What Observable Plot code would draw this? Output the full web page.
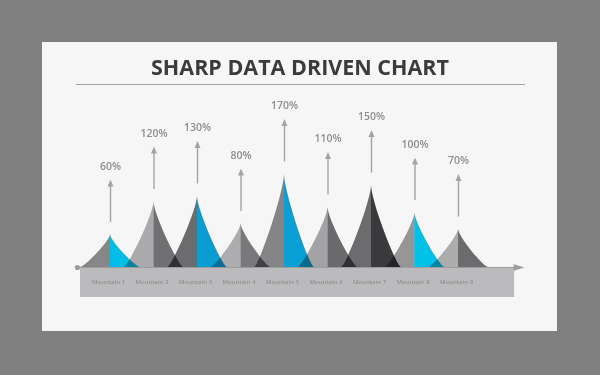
<!DOCTYPE html>
<html>
<head>
<meta charset="utf-8">
<script src="https://cdn.jsdelivr.net/npm/d3@7"></script>
<script src="https://cdn.jsdelivr.net/npm/@observablehq/plot@0.6"></script>
<style>
  html, body { margin: 0; padding: 0; }
  body { width: 600px; height: 375px; background: #808080; position: relative; overflow: hidden; font-family: "Open Sans", sans-serif; }
  #card { position: absolute; left: 42px; top: 42px; width: 515px; height: 289px; background: #f6f6f6; }
  #title { position: absolute; left: 0; top: 56px; width: 600px; text-align: center; font: 700 21.5px/1 "Open Sans", sans-serif; color: #3b3b3b; margin: 0; }
  #rule { position: absolute; left: 76px; top: 84px; width: 449px; height: 1px; background: #a3a3a3; }
  #chart { position: absolute; left: 0; top: 0; }
</style>
</head>
<body>
<div id="card"></div>
<h1 id="title">SHARP DATA DRIVEN CHART</h1>
<div id="rule"></div>
<div id="chart"></div>
<script>
// ---- data ----
const mountains = ["Mountain 1","Mountain 2","Mountain 3","Mountain 4","Mountain 5","Mountain 6","Mountain 7","Mountain 8","Mountain 9"];
const values = [60, 120, 130, 80, 170, 110, 150, 100, 70];
const valueLabels = ["60%","120%","130%","80%","170%","110%","150%","100%","70%"];
const leftColors  = ["#8c8c8e","#b0b0b2","#707072","#b4b4b6","#8a8a8c","#a9a9ab","#707072","#9c9c9e","#b2b2b4"];
const rightColors = ["#00c5ee","#747476","#0aa3da","#7c7c7e","#0aa6de","#6e6e70","#3c3c3e","#00c8f0","#707072"];

// ---- geometry helpers ----
const HW = 0.69; // half width of a mountain, in category steps
const idx = mountains.map((d, i) => i + 1);
const rows = [];
mountains.forEach((m, i) => {
  const x = idx[i], v = values[i];
  rows.push({k: "L" + i, x: x - HW, y: 0, fill: leftColors[i]});
  rows.push({k: "L" + i, x: x, y: v, fill: leftColors[i]});
  rows.push({k: "R" + i, x: x, y: v, fill: rightColors[i]});
  rows.push({k: "R" + i, x: x + HW, y: 0, fill: rightColors[i]});
});
const table = mountains.map((m, i) => ({m, x: idx[i], v: values[i], label: valueLabels[i]}));

// concave "sharp" curve: horizontal at the foot, vertical at the peak
function sharp(context) {
  const A = 0.15, B = 0.8;
  let line, n, px, py;
  return {
    areaStart() { line = 0; },
    areaEnd() { line = NaN; },
    lineStart() { n = 0; },
    lineEnd() { if (line || (line !== 0 && n === 1)) context.closePath(); line = 1 - line; },
    point(x, y) {
      x = +x; y = +y;
      if (n === 0) { line ? context.lineTo(x, y) : context.moveTo(x, y); }
      else if (Math.abs(y - py) < 0.5) context.lineTo(x, y);
      else {
        const lowFirst = py > y;
        const L = lowFirst ? [px, py] : [x, y], H = lowFirst ? [x, y] : [px, py];
        const cL = [L[0] + (H[0] - L[0]) * A, L[1]];
        const cH = [H[0], L[1] + (H[1] - L[1]) * B];
        if (lowFirst) context.bezierCurveTo(cL[0], cL[1], cH[0], cH[1], x, y);
        else context.bezierCurveTo(cH[0], cH[1], cL[0], cL[1], x, y);
      }
      n++; px = x; py = y;
    }
  };
}

const first = idx[0], last = idx[idx.length - 1];
const gray = "#a4a4a4";

const chart = Plot.plot({
  width: 600,
  height: 375,
  margin: 0,
  x: {domain: [first, last], range: [110, 458], axis: null},
  y: {domain: [0, 100], range: [267, 212], axis: null},
  color: {type: "identity"},
  style: {background: "transparent", overflow: "visible", fontFamily: "'Open Sans', sans-serif"},
  marks: [
    // band under the baseline
    Plot.rect([0], {x1: first - HW, x2: last + 1.29, y1: -54.5, y2: 0, fill: "#bbbbbd"}),
    // mountains (no stacking: explicit y1/y2)
    Plot.area(rows, {x1: "x", y1: 0, y2: "y", z: "k", fill: "fill", curve: sharp, mixBlendMode: "multiply"}),
    // baseline with dot and arrowhead
    Plot.ruleY([0], {x1: first - 0.76, x2: last + 1.3, stroke: "#9c9c9c", strokeWidth: 1.2}),
    Plot.dot([0], {x: first - 0.76, y: 0, r: 2.6, fill: "#9c9c9c", stroke: "none"}),
    Plot.vector([0], {x: last + 1.52, y: 0, length: 11, r: 3.3, rotate: 90, shape: "spike", anchor: "end", fill: "#9c9c9c", stroke: "none"}),
    // value arrows (y1 = top, y2 = bottom so insets apply correctly)
    Plot.ruleX(table, {x: "x", y1: d => d.v + 100, y2: "v", insetTop: 5, insetBottom: 12, stroke: gray, strokeWidth: 1.4}),
    Plot.vector(table, {x: "x", y: d => d.v + 100, length: 7, r: 3, shape: "spike", anchor: "end", fill: gray, stroke: "none"}),
    // value labels
    Plot.text(table, {x: "x", y: "v", dy: -68, text: "label", fontSize: 10.5, fontWeight: 600, fill: "#8e8e8e"}),
    // category labels
    Plot.text(table, {x: "x", y: 0, dy: 15, dx: -2, text: "m", fontSize: 6, fontWeight: 600, fill: "#909090"})
  ]
});
document.getElementById("chart").appendChild(chart);
</script>
</body>
</html>
